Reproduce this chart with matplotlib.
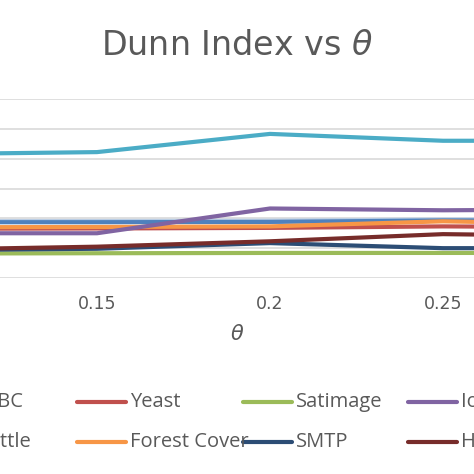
import matplotlib.pyplot as plt
from matplotlib.lines import Line2D

theta = [0.10, 0.15, 0.20, 0.25, 0.30]
series = {
    "WDBC": [1.87, 1.87, 1.88, 1.93, 1.92],
    "Yeast": [1.65, 1.66, 1.68, 1.73, 1.70],
    "Satimage": [0.82, 0.83, 0.84, 0.84, 0.84],
    "Ionosphere": [1.50, 1.50, 2.33, 2.27, 2.30],
    "Iris": [4.15, 4.22, 4.83, 4.60, 4.60],
    "Shuttle": [1.91, 1.91, 1.92, 1.96, 1.95],
    "Forest Cover": [1.70, 1.71, 1.73, 1.90, 1.80],
    "SMTP": [0.93, 0.98, 1.17, 1.00, 1.00],
    "HTTP": [0.95, 1.05, 1.23, 1.47, 1.40],
}
colors = {
    "WDBC": "#4F81BD", "Yeast": "#C0504D", "Satimage": "#9BBB59",
    "Ionosphere": "#8064A2", "Iris": "#4BACC6", "Shuttle": "#B9CDE5",
    "Forest Cover": "#F79646", "SMTP": "#2C4D75", "HTTP": "#772C2A",
}
order = ["Shuttle", "WDBC", "Iris", "Satimage", "SMTP", "HTTP", "Yeast", "Forest Cover", "Ionosphere"]

fig = plt.figure(figsize=(4.74, 4.74), dpi=100)
ax = fig.add_axes([0, 1 - 278 / 474, 1, 179 / 474])
for name in order:
    ax.plot(theta, series[name], color=colors[name], lw=3, solid_capstyle="round", zorder=3)
ax.set_xlim(0.15 - 97 / 3460, 0.2 + 204 / 3460)
ax.set_ylim(0, 6)
ax.set_yticks(range(7))
ax.set_yticklabels([])
ax.set_xticks([0.15, 0.2, 0.25])
ax.set_xticklabels(["0.15", "0.2", "0.25"], color="#595959", fontsize=12.5)
ax.tick_params(length=0, pad=12)
ax.grid(axis="y", color="#D9D9D9", lw=1.2)
for s in ax.spines.values():
    s.set_visible(False)
ax.set_xlabel(r"$\theta$", color="#595959", fontsize=15, labelpad=8)
fig.text(0.5, 1 - 45 / 474, r"Dunn Index vs $\theta$", ha="center", va="center",
         fontsize=24, color="#595959")

# legend laid out by hand so that the outer columns run off the figure like the reference
rows = [["WDBC", "Yeast", "Satimage", "Ionosphere"], ["Shuttle", "Forest Cover", "SMTP", "HTTP"]]
col_x = [-88, 77, 243, 408]
for r, names in enumerate(rows):
    yy = 1 - (402 + 40 * r) / 474
    for c, name in enumerate(names):
        x0 = col_x[c]
        fig.add_artist(Line2D([x0 / 474, (x0 + 49) / 474], [yy, yy], color=colors[name], lw=3,
                              solid_capstyle="round", transform=fig.transFigure))
        fig.text((x0 + 53) / 474, yy, name, va="center", ha="left", fontsize=14.5, color="#595959",
                 family="Open Sans")

fig.savefig("out.png", dpi=100)
